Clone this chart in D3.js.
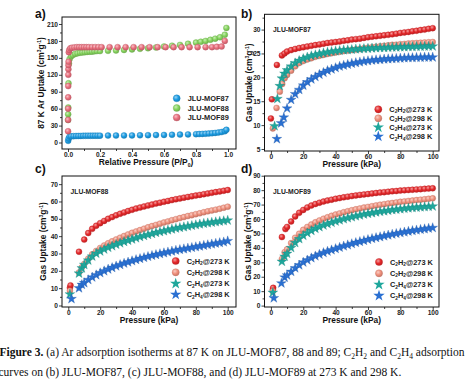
<!DOCTYPE html>
<html>
<head>
<meta charset="utf-8">
<script src="https://cdn.jsdelivr.net/npm/d3@7"></script>
<style>
  body { margin: 0; background: #fff; }
  svg { display: block; font-family: "Liberation Sans", Arial, sans-serif; }
  .tick text { font-size: 6.6px; font-weight: bold; fill: #222; }
  .tick line { stroke: #111; stroke-width: 0.8; }
</style>
</head>
<body>
<svg id="fig" width="474" height="381"></svg>
<script>
const width = 474;
const height = 381;

// ---- panel a: Ar isotherms at 87 K  [P/P0, uptake] ----
const arMOF87 = [[0.001, 3], [0.004, 7], [0.01, 10.5], [0.02, 11], [0.035, 11.3], [0.05, 11.5], [0.065, 11.6], [0.08, 11.7],
  [0.095, 11.8], [0.11, 11.9], [0.125, 12], [0.14, 12], [0.155, 12.1], [0.17, 12.1], [0.185, 12.2], [0.2, 12.2], [0.25, 12.3],
  [0.3, 12.4], [0.35, 12.5], [0.4, 12.6], [0.45, 12.8], [0.5, 13], [0.55, 13.2], [0.6, 13.4], [0.65, 13.7], [0.7, 14],
  [0.75, 14.4], [0.8, 14.8], [0.82, 15], [0.84, 15.3], [0.86, 15.6], [0.88, 16], [0.9, 16.4], [0.92, 17], [0.94, 17.6],
  [0.96, 18.5], [0.98, 20], [0.99, 22.5]];
const arMOF88 = [[0.0005, 40], [0.001, 50], [0.0015, 62], [0.003, 105], [0.006, 140], [0.01, 148], [0.02, 153], [0.03, 155],
  [0.045, 157], [0.06, 158], [0.075, 159], [0.09, 159.5], [0.105, 160], [0.12, 160.5], [0.135, 161], [0.15, 161], [0.165, 161.5],
  [0.18, 162], [0.2, 162], [0.25, 162.5], [0.3, 163], [0.35, 164], [0.4, 165], [0.45, 166], [0.5, 167], [0.55, 168.5], [0.6, 170],
  [0.65, 171.5], [0.7, 173], [0.75, 175], [0.8, 177], [0.83, 178.5], [0.86, 180], [0.89, 182], [0.92, 184], [0.95, 186.5],
  [0.98, 191], [0.99, 203]];
const arMOF89 = [[0.0003, 20], [0.0006, 40], [0.0009, 60], [0.0012, 80], [0.0015, 100], [0.002, 120], [0.0025, 130], [0.003, 137],
  [0.0035, 143], [0.005, 160], [0.008, 164], [0.015, 167], [0.025, 168], [0.04, 168.5], [0.055, 169], [0.07, 169], [0.085, 169],
  [0.1, 169], [0.115, 169], [0.13, 169], [0.15, 169], [0.17, 169], [0.19, 169], [0.21, 169], [0.26, 169], [0.31, 169], [0.36, 169],
  [0.41, 169], [0.46, 169], [0.51, 169], [0.56, 169], [0.61, 169], [0.66, 169], [0.71, 169], [0.76, 169], [0.81, 169], [0.86, 169],
  [0.9, 169], [0.93, 169.5], [0.96, 170], [0.98, 180]];

// ---- panels b-d: gas isotherms, shared pressure grid (kPa) above 10 kPa ----
const pressureTail = [10, 12.5, 15, 17.5, 20, 22.5, 25, 27.5, 30, 32.5, 35, 37.5, 40, 42.5, 45, 47.5, 50, 52.5, 55, 57.5,
  60, 62.5, 65, 67.5, 70, 72.5, 75, 77.5, 80, 82.5, 85, 87.5, 90, 92.5, 95, 97.5, 100];

// JLU-MOF87
const b_C2H2_273_low = [[0, 11.4], [0.6, 15.4], [3.7, 22.6], [6.8, 24.6], [8.4, 25.0]];
const b_C2H2_273 = [25.4, 25.7, 25.95, 26.15, 26.3, 26.45, 26.6, 26.75, 26.9, 27.05, 27.2, 27.3, 27.4, 27.5, 27.65, 27.75, 27.9, 28.0,
  28.1, 28.25, 28.4, 28.5, 28.6, 28.7, 28.8, 28.9, 29.0, 29.15, 29.3, 29.4, 29.5, 29.65, 29.75, 29.9, 30.0, 30.15, 30.3];
const b_C2H2_298_low = [[1.2, 9.3], [3.5, 13.6], [5.5, 17.0], [7, 18.6], [8.5, 19.8]];
const b_C2H2_298 = [20.5, 21.4, 22.3, 23.0, 23.4, 23.75, 24.0, 24.3, 24.5, 24.7, 24.9, 25.05, 25.2, 25.35, 25.5, 25.6, 25.75, 25.85,
  25.95, 26.1, 26.2, 26.3, 26.4, 26.5, 26.6, 26.7, 26.8, 26.85, 26.95, 27.0, 27.1, 27.15, 27.2, 27.25, 27.3, 27.35, 27.4];
const b_C2H4_273_low = [[2.3, 9.8], [4, 15.5], [5.5, 18.2], [6.8, 19.8], [8.4, 20.8]];
const b_C2H4_273 = [21.5, 22.3, 23.0, 23.5, 23.9, 24.2, 24.5, 24.7, 24.9, 25.1, 25.25, 25.4, 25.5, 25.6, 25.7, 25.75, 25.8, 25.9,
  25.95, 26.0, 26.05, 26.1, 26.15, 26.2, 26.2, 26.25, 26.3, 26.3, 26.35, 26.35, 26.4, 26.4, 26.45, 26.45, 26.5, 26.5, 26.5];
const b_C2H4_298_low = [[3.7, 7.1], [6.3, 10.4], [8, 11.6]];
const b_C2H4_298 = [13.5, 15.3, 16.5, 17.4, 18.3, 19.0, 19.6, 20.1, 20.6, 21.0, 21.4, 21.7, 22.0, 22.3, 22.5, 22.7, 22.9, 23.05,
  23.2, 23.35, 23.45, 23.55, 23.65, 23.7, 23.8, 23.85, 23.9, 23.95, 24.0, 24.05, 24.1, 24.1, 24.15, 24.15, 24.2, 24.2, 24.2];

// JLU-MOF88
const c_C2H2_273_low = [[1.0, 10.2], [1.4, 11.6], [6.7, 31.0]];
const c_C2H2_273 = [38.0, 41.8, 44.2, 46.0, 47.5, 48.8, 50.0, 51.0, 52.0, 52.9, 53.7, 54.5, 55.2, 55.9, 56.5, 57.1, 57.7, 58.2,
  58.8, 59.3, 59.8, 60.3, 60.8, 61.3, 61.7, 62.2, 62.6, 63.0, 63.4, 63.8, 64.2, 64.6, 65.0, 65.4, 65.8, 66.2, 66.6];
const c_C2H2_298_low = [[1.0, 8.5], [6.7, 19.0], [8.5, 22.0]];
const c_C2H2_298 = [24.0, 27.0, 29.5, 31.5, 33.2, 34.6, 35.9, 37.0, 38.1, 39.1, 40.1, 41.0, 41.9, 42.7, 43.5, 44.3, 45.1, 45.8,
  46.5, 47.2, 47.9, 48.5, 49.2, 49.8, 50.4, 51.0, 51.6, 52.1, 52.7, 53.2, 53.8, 54.3, 54.8, 55.3, 55.8, 56.4, 57.0];
const c_C2H4_273_low = [[1.0, 6.5], [6.7, 18.5], [8.5, 21.5]];
const c_C2H4_273 = [23.5, 26.0, 28.3, 30.0, 31.3, 32.4, 33.4, 34.3, 35.2, 36.0, 36.8, 37.5, 38.2, 38.9, 39.6, 40.2, 40.8, 41.4,
  42.0, 42.5, 43.0, 43.5, 44.0, 44.5, 44.9, 45.3, 45.7, 46.1, 46.5, 46.9, 47.3, 47.6, 47.9, 48.2, 48.5, 48.8, 49.1];
const c_C2H4_298_low = [[2.0, 3.8], [6.7, 10.0], [8.5, 12.0]];
const c_C2H4_298 = [13.0, 14.8, 16.3, 17.6, 18.8, 19.9, 20.9, 21.8, 22.7, 23.5, 24.3, 25.0, 25.7, 26.4, 27.0, 27.6, 28.2, 28.8,
  29.3, 29.8, 30.3, 30.8, 31.3, 31.8, 32.2, 32.6, 33.0, 33.4, 33.8, 34.2, 34.6, 35.0, 35.4, 35.8, 36.2, 36.6, 37.2];

// JLU-MOF89
const d_C2H2_273_low = [[1.2, 11.0], [1.4, 12.3], [6.8, 47.5], [9, 53.0]];
const d_C2H2_273 = [54.5, 58.3, 61.8, 64.3, 66.3, 68.0, 69.3, 70.4, 71.3, 72.1, 72.8, 73.4, 74.0, 74.5, 75.0, 75.5, 75.9, 76.3,
  76.7, 77.0, 77.3, 77.7, 78.0, 78.3, 78.6, 78.9, 79.2, 79.4, 79.7, 79.9, 80.1, 80.3, 80.5, 80.7, 80.9, 81.1, 81.3];
const d_C2H2_298_low = [[1.2, 10.0], [6.8, 32.3], [8.5, 37.0]];
const d_C2H2_298 = [39.0, 43.3, 47.0, 49.8, 52.5, 54.5, 56.2, 57.7, 59.0, 60.2, 61.2, 62.2, 63.1, 63.9, 64.7, 65.4, 66.1, 66.7,
  67.3, 67.9, 68.4, 68.9, 69.4, 69.9, 70.3, 70.7, 71.1, 71.5, 71.9, 72.2, 72.5, 72.8, 73.1, 73.4, 73.7, 74.0, 74.3];
const d_C2H4_273_low = [[1.2, 9.0], [6.8, 30.5], [8.5, 34.0]];
const d_C2H4_273 = [36.0, 40.0, 43.5, 46.2, 48.5, 50.3, 51.9, 53.3, 54.5, 55.6, 56.6, 57.5, 58.4, 59.2, 60.0, 60.7, 61.4, 62.0,
  62.6, 63.2, 63.7, 64.2, 64.7, 65.1, 65.5, 65.9, 66.3, 66.6, 66.9, 67.2, 67.5, 67.8, 68.0, 68.2, 68.4, 68.6, 68.8];
const d_C2H4_298_low = [[1.8, 5.2], [6.5, 15.5], [8.5, 19.5]];
const d_C2H4_298 = [21.0, 23.5, 26.0, 28.0, 30.0, 31.5, 33.0, 34.3, 35.5, 36.6, 37.6, 38.5, 39.4, 40.3, 41.2, 42.0, 42.8, 43.6,
  44.3, 45.0, 45.7, 46.4, 47.0, 47.6, 48.2, 48.8, 49.4, 49.9, 50.4, 50.9, 51.4, 51.9, 52.3, 52.7, 53.1, 53.5, 53.9];

const arNames = ["JLU-MOF87", "JLU-MOF88", "JLU-MOF89"];
const gasNames = [["C", "2", "H", "2", "@273 K"], ["C", "2", "H", "2", "@298 K"], ["C", "2", "H", "4", "@273 K"], ["C", "2", "H", "4", "@298 K"]];

const colors = {
  mof87: "#1b9ce3", mof88: "#86d55e", mof89: "#ea6f7d",
  c2h2_273: "#e5282a", c2h2_298: "#f0907c", c2h4_273: "#1fa79c", c2h4_298: "#2a70d2"
};

const svg = d3.select("#fig");
const defs = svg.append("defs");

// glossy sphere look for the round markers
Object.entries(colors).forEach(([k, c]) => {
  const g = defs.append("radialGradient").attr("id", "g-" + k)
    .attr("cx", "38%").attr("cy", "35%").attr("r", "65%");
  g.append("stop").attr("offset", "0%").attr("stop-color", d3.interpolateRgb(c, "#fff")(0.55));
  g.append("stop").attr("offset", "55%").attr("stop-color", c);
  g.append("stop").attr("offset", "100%").attr("stop-color", d3.color(c).darker(0.5));
});

const join = (low, tail) => low.concat(pressureTail.map((p, i) => [p, tail[i]]));

function drawPanel(cfg) {
  const x = d3.scaleLinear().domain(cfg.xDomain).range([cfg.left, cfg.right]);
  const y = d3.scaleLinear().domain(cfg.yDomain).range([cfg.bottom, cfg.top]);
  const g = svg.append("g");

  // minor ticks
  g.append("g").attr("transform", `translate(0,${cfg.bottom})`)
    .call(d3.axisBottom(x).tickValues(cfg.xMinor).tickSize(2).tickFormat(""))
    .call(a => a.select(".domain").remove());
  g.append("g").attr("transform", `translate(${cfg.left},0)`)
    .call(d3.axisLeft(y).tickValues(cfg.yMinor).tickSize(2).tickFormat(""))
    .call(a => a.select(".domain").remove());

  const xa = g.append("g").attr("transform", `translate(0,${cfg.bottom})`)
    .call(d3.axisBottom(x).tickValues(cfg.xTicks).tickSize(3).tickPadding(0.5).tickFormat(cfg.xFormat));
  xa.select(".domain").remove();
  const ya = g.append("g").attr("transform", `translate(${cfg.left},0)`)
    .call(d3.axisLeft(y).tickValues(cfg.yTicks).tickSize(3).tickPadding(1));
  ya.select(".domain").remove();

  g.append("rect")
    .attr("x", cfg.left).attr("y", cfg.top)
    .attr("width", cfg.right - cfg.left).attr("height", cfg.bottom - cfg.top)
    .attr("fill", "none").attr("stroke", "#111").attr("stroke-width", 1);

  const plot = g.append("g");
  cfg.series.forEach(s => {
    if (s.shape === "circle") {
      plot.selectAll(null).data(s.data).enter().append("circle")
        .attr("cx", d => x(d[0])).attr("cy", d => y(d[1])).attr("r", s.r)
        .attr("fill", `url(#g-${s.key})`)
        .attr("stroke", d3.color(colors[s.key]).darker(0.6)).attr("stroke-width", 0.35);
    } else {
      plot.selectAll(null).data(s.data).enter().append("path")
        .attr("transform", d => `translate(${x(d[0])},${y(d[1])})`)
        .attr("d", d3.symbol(d3.symbolStar, s.size))
        .attr("fill", colors[s.key])
        .attr("stroke", d3.color(colors[s.key]).darker(0.7)).attr("stroke-width", 0.3);
    }
  });

  // axis titles
  const xt = g.append("text").attr("x", cfg.xTitleX || (cfg.left + cfg.right) / 2).attr("y", cfg.bottom + 16)
    .attr("text-anchor", "middle").attr("font-size", 8.4).attr("font-weight", "bold").attr("fill", "#111");
  cfg.xTitle(xt);
  const cy = (cfg.top + cfg.bottom) / 2;
  const yt = g.append("text").attr("transform", `translate(${cfg.yTitleX},${cy}) rotate(-90)`)
    .attr("text-anchor", "middle").attr("dy", "0.35em")
    .attr("font-size", 8.4).attr("font-weight", "bold").attr("fill", "#111");
  cfg.yTitle(yt);

  // panel letter
  svg.append("text").attr("x", cfg.letterX).attr("y", cfg.letterY)
    .attr("font-size", 12).attr("font-weight", "bold").attr("fill", "#111").text(cfg.letter);

  if (cfg.name) {
    g.append("text").attr("x", cfg.left + 8.5).attr("y", cfg.top + 17.5)
      .attr("font-size", 6.8).attr("font-weight", "bold").attr("fill", "#222").text(cfg.name);
  }

  // legend
  cfg.legend.forEach((l, i) => {
    const ly = cfg.legendY[i];
    if (l.shape === "circle") {
      g.append("circle").attr("cx", cfg.legendX).attr("cy", ly).attr("r", l.r)
        .attr("fill", `url(#g-${l.key})`)
        .attr("stroke", d3.color(colors[l.key]).darker(0.6)).attr("stroke-width", 0.35);
    } else {
      g.append("path").attr("transform", `translate(${cfg.legendX},${ly})`)
        .attr("d", d3.symbol(d3.symbolStar, l.size)).attr("fill", colors[l.key]);
    }
    const t = g.append("text").attr("x", cfg.legendX + 11).attr("y", ly).attr("dy", "0.35em")
      .attr("font-size", 7.4).attr("font-weight", "bold").attr("fill", "#222");
    if (typeof l.label === "string") {
      t.text(l.label);
    } else {
      l.label.forEach((part, j) => {
        const sp = t.append("tspan").text(part);
        if (j === 1 || j === 3) sp.attr("font-size", 4.8).attr("dy", 1.5);
        if (j === 2 || j === 4) sp.attr("dy", -1.5);
      });
    }
  });
}

function uptakeTitle(prefix) {
  return t => {
    t.append("tspan").text(prefix + " (cm");
    t.append("tspan").text("3").attr("font-size", 5).attr("dy", -3);
    t.append("tspan").text("g").attr("dy", 3);
    t.append("tspan").text("-1").attr("font-size", 5).attr("dy", -3);
    t.append("tspan").text(")").attr("dy", 3);
  };
}
const pressureTitle = t => t.text("Pressure (kPa)");

const gasLegend = keys => keys.map((k, i) => i < 2
  ? { key: k, shape: "circle", r: 3.6, label: gasNames[i] }
  : { key: k, shape: "star", size: 40, label: gasNames[i] });
const gasKeys = ["c2h2_273", "c2h2_298", "c2h4_273", "c2h4_298"];
const gasSeries = (arrs, r) => arrs.map((data, i) => i < 2
  ? { key: gasKeys[i], shape: "circle", r: r, data: data }
  : { key: gasKeys[i], shape: "star", size: 30, data: data });

// a)
drawPanel({
  letter: "a)", letterX: 35, letterY: 18,
  left: 62, right: 236, top: 17, bottom: 149,
  xDomain: [-0.0375, 1.05], yDomain: [-11.5, 222.4],
  xTicks: [0, 0.2, 0.4, 0.6, 0.8, 1.0], xMinor: [0.1, 0.3, 0.5, 0.7, 0.9], xFormat: d3.format(".1f"),
  yTicks: d3.range(0, 211, 30), yMinor: d3.range(15, 211, 30),
  yTitleX: 41.5, xTitleX: 146,
  xTitle: t => {
    t.append("tspan").text("Relative Pressure (P/P");
    t.append("tspan").text("0").attr("font-size", 5).attr("dy", 2);
    t.append("tspan").text(")").attr("dy", -2);
  },
  yTitle: uptakeTitle("87 K Ar Uptake"),
  series: [
    { key: "mof87", shape: "circle", r: 3, data: arMOF87 },
    { key: "mof88", shape: "circle", r: 3, data: arMOF88 },
    { key: "mof89", shape: "circle", r: 3, data: arMOF89 }
  ],
  legendX: 176.7, legendY: [98.3, 108, 117.5],
  legend: [
    { key: "mof87", shape: "circle", r: 3.5, label: arNames[0] },
    { key: "mof88", shape: "circle", r: 3.5, label: arNames[1] },
    { key: "mof89", shape: "circle", r: 3.5, label: arNames[2] }
  ]
});

// b)
drawPanel({
  letter: "b)", letterX: 241, letterY: 18, name: "JLU-MOF87",
  left: 264.5, right: 439, top: 14.3, bottom: 151,
  xDomain: [-3.95, 103.9], yDomain: [4.58, 33.2],
  xTicks: d3.range(0, 101, 20), xMinor: d3.range(10, 101, 20), xFormat: d3.format("d"),
  yTicks: d3.range(5, 31, 5), yMinor: d3.range(7.5, 33, 5),
  yTitleX: 249,
  xTitle: pressureTitle, yTitle: uptakeTitle("Gas Uptake"),
  series: gasSeries([join(b_C2H2_273_low, b_C2H2_273), join(b_C2H2_298_low, b_C2H2_298),
    join(b_C2H4_273_low, b_C2H4_273), join(b_C2H4_298_low, b_C2H4_298)], 3),
  legendX: 378.3, legendY: [109.3, 118.3, 127.3, 136.5],
  legend: gasLegend(gasKeys)
});

// c)
drawPanel({
  letter: "c)", letterX: 35, letterY: 173, name: "JLU-MOF88",
  left: 62, right: 236, top: 176, bottom: 307,
  xDomain: [-3.95, 105.2], yDomain: [-0.87, 74.7],
  xTicks: d3.range(0, 101, 20), xMinor: d3.range(10, 101, 20), xFormat: d3.format("d"),
  yTicks: d3.range(0, 71, 10), yMinor: d3.range(5, 75, 10),
  yTitleX: 43,
  xTitle: pressureTitle, yTitle: uptakeTitle("Gas Uptake"),
  series: gasSeries([join(c_C2H2_273_low, c_C2H2_273), join(c_C2H2_298_low, c_C2H2_298),
    join(c_C2H4_273_low, c_C2H4_273), join(c_C2H4_298_low, c_C2H4_298)], 3),
  legendX: 175.7, legendY: [261, 272.3, 283.6, 294.5],
  legend: gasLegend(gasKeys)
});

// d)
drawPanel({
  letter: "d)", letterX: 241, letterY: 173, name: "JLU-MOF89",
  left: 264.5, right: 439, top: 176, bottom: 307,
  xDomain: [-3.95, 103.9], yDomain: [-0.97, 89.8],
  xTicks: d3.range(0, 101, 20), xMinor: d3.range(10, 101, 20), xFormat: d3.format("d"),
  yTicks: d3.range(0, 91, 10), yMinor: d3.range(5, 90, 10),
  yTitleX: 248.3,
  xTitle: pressureTitle, yTitle: uptakeTitle("Gas Uptake"),
  series: gasSeries([join(d_C2H2_273_low, d_C2H2_273), join(d_C2H2_298_low, d_C2H2_298),
    join(d_C2H4_273_low, d_C2H4_273), join(d_C2H4_298_low, d_C2H4_298)], 3),
  legendX: 379, legendY: [262, 273.3, 284.6, 295.7],
  legend: gasLegend(gasKeys)
});

// caption
const cap = svg.append("g").attr("font-family", "'Liberation Serif', 'Times New Roman', serif")
  .attr("font-size", 11.5).attr("fill", "#111");
const l1 = cap.append("text").attr("x", -0.5).attr("y", 356);
l1.append("tspan").attr("font-weight", "bold").text("Figure 3.");
l1.append("tspan").text(" (a) Ar adsorption isotherms at 87 K on JLU-MOF87, 88 and 89; C");
l1.append("tspan").text("2").attr("font-size", 7.5).attr("dy", 2.5);
l1.append("tspan").text("H").attr("dy", -2.5);
l1.append("tspan").text("2").attr("font-size", 7.5).attr("dy", 2.5);
l1.append("tspan").text(" and C").attr("dy", -2.5);
l1.append("tspan").text("2").attr("font-size", 7.5).attr("dy", 2.5);
l1.append("tspan").text("H").attr("dy", -2.5);
l1.append("tspan").text("4").attr("font-size", 7.5).attr("dy", 2.5);
l1.append("tspan").text(" adsorption").attr("dy", -2.5);
cap.append("text").attr("x", -1.5).attr("y", 376)
  .text("curves on (b) JLU-MOF87, (c) JLU-MOF88, and (d) JLU-MOF89 at 273 K and 298 K.");
</script>
</body>
</html>
